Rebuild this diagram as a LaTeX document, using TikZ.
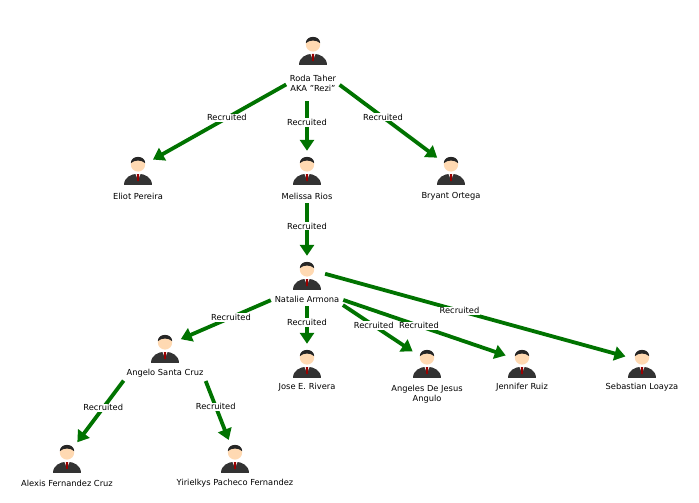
\documentclass[tikz,border=0pt]{standalone}
\usepackage{fontspec}
\setmainfont{DejaVu Sans}
\usetikzlibrary{arrows.meta}
\begin{document}
\begin{tikzpicture}[x=1pt,y=-1pt,
  lbl/.style={font=\fontsize{8.3}{10}\selectfont,align=center,inner sep=1pt},
  elbl/.style={font=\fontsize{8.3}{10}\selectfont,fill=white,inner sep=1pt},
  icon/.style={circle,minimum size=30pt,inner sep=0pt},
  edge/.style={draw=green!45!black,line width=3.8pt,-{Triangle[length=11pt,width=14pt]},shorten <=3pt,shorten >=2pt},
  person/.pic={
    \begin{scope}[scale=1.2]
    \fill[black!80] (-12,14) .. controls (-12,2) and (12,2) .. (12,14) -- cycle;
    \fill[white] (-2.5,4) -- (2.5,4) -- (0,10) -- cycle;
    \fill[red!60!black] (-1,5) -- (1,5) -- (0.6,11) -- (-0.6,11) -- cycle;
    \fill[orange!30!white] (0,-3) circle (6);
    \fill[black!85] (-6,-4) .. controls (-6,-11) and (6,-11) .. (6,-4) .. controls (3,-7) and (-3,-7) .. (-6,-4);
    \end{scope}
  }]
\useasboundingbox (0,0) rectangle (699,503);
\fill[white] (0,0) rectangle (699,503);
\foreach \n/\x/\y in {roda/313/48,eliot/138/168,melissa/307/168,bryant/451/168,natalie/307/273,angelo/165/346,jose/307/361,angeles/427/361,jennifer/522/361,sebastian/642/361,alexis/67/456,yiri/235/456}
  {\node[icon] (\n I) at (\x,\y) {}; \pic at (\x,\y) {person};}
\node[lbl] (rodaL) at (313,83) {Roda Taher\\AKA "Rezi"};
\node[lbl] (eliotL) at (138,196) {Eliot Pereira};
\node[lbl] (melissaL) at (307,196) {Melissa Rios};
\node[lbl] (bryantL) at (451,196) {Bryant Ortega};
\node[lbl] (natalieL) at (307,299) {Natalie Armona};
\node[lbl] (angeloL) at (165,373) {Angelo Santa Cruz};
\node[lbl] (joseL) at (307,387) {Jose E. Rivera};
\node[lbl] (angelesL) at (427,394) {Angeles De Jesus\\Angulo};
\node[lbl] (jenniferL) at (522,387) {Jennifer Ruiz};
\node[lbl] (sebastianL) at (642,387) {Sebastian Loayza};
\node[lbl] (alexisL) at (67,483) {Alexis Fernandez Cruz};
\node[lbl] (yiriL) at (235,483) {Yirielkys Pacheco Fernandez};
\coordinate (rodaS) at (307,98);
\draw[edge] (rodaL.west) -- (eliotI) node[elbl,pos=0.45] {Recruited};
\draw[edge] (rodaS) -- (melissaI) node[elbl,pos=0.45] {Recruited};
\draw[edge] (rodaL.east) -- (bryantI) node[elbl,pos=0.45] {Recruited};
\draw[edge] (melissaL.south) -- (natalieI) node[elbl,pos=0.45] {Recruited};
\draw[edge] (natalieL.west) -- (angeloI) node[elbl,pos=0.45] {Recruited};
\draw[edge] (natalieL.south) -- (joseI) node[elbl,pos=0.45] {Recruited};
\draw[edge] (natalieL.south east) -- (angelesI) node[elbl,pos=0.45] {Recruited};
\draw[edge] (natalieL.east) -- (jenniferI) node[elbl,pos=0.47] {Recruited};
\draw[edge] (natalieI.east) -- (sebastianI) node[elbl,pos=0.45] {Recruited};
\draw[edge] (angeloL.south west) -- (alexisI) node[elbl,pos=0.45] {Recruited};
\draw[edge] (angeloL.south east) -- (yiriI) node[elbl,pos=0.45] {Recruited};
\end{tikzpicture}
\end{document}
